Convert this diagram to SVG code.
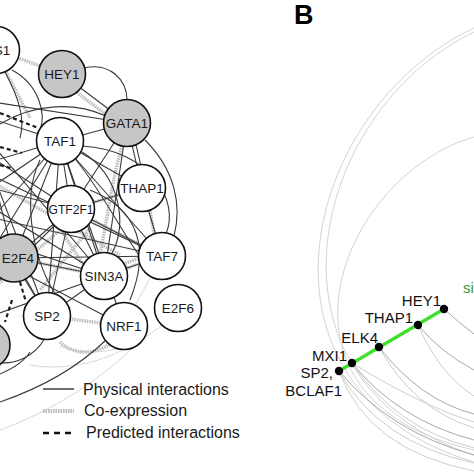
<svg xmlns="http://www.w3.org/2000/svg" width="474" height="474" viewBox="0 0 474 474">
<style>
.phys{stroke:#3a3a3a;stroke-width:1.1;fill:none}
.coex{stroke:#bdbdbd;stroke-width:3.4;fill:none;stroke-dasharray:1.6 0.9}
.pred{stroke:#1e1e1e;stroke-width:2.2;fill:none;stroke-dasharray:4 3}
.faint{stroke:#d8d8d8;stroke-width:1;fill:none}
.node circle{stroke:#111;stroke-width:1.6}
.w{fill:#fff}
.g{fill:#c6c6c6}
.lbl{font-family:"Liberation Sans",Arial,sans-serif;font-size:13.5px;fill:#1a1a1a;text-anchor:middle}
.leg{font-family:"Liberation Sans",Arial,sans-serif;font-size:16px;fill:#1a1a1a}
.blbl{font-family:"Liberation Sans",Arial,sans-serif;font-size:15px;fill:#111;text-anchor:end}
.arc{stroke:#d4d4d4;stroke-width:1;fill:none}
.fan{stroke:#a8a8a8;stroke-width:1;fill:none}
.fan2{stroke:#cdcdcd;stroke-width:1;fill:none}
</style>
<rect width="474" height="474" fill="#fff"/>

<g id="connectors-A">
  <path class="faint" d="M124,326 L162,256"/>
  <path class="faint" d="M-5,432 C50,412 105,380 150,330"/>
  <path class="faint" d="M60,346 C100,362 150,345 178,308"/>
  <path class="faint" d="M30,365 C70,372 110,360 140,340"/>
  <path class="coex" d="M-4,50 L62,74"/>
  <path class="coex" d="M59,79 L124,128"/>
  <path class="coex" d="M6,72 L30,118"/>
  <path class="coex" d="M122,146 C112,180 108,215 100,254"/>
  <path class="coex" d="M71,209 L142,188"/>
  <path class="coex" d="M71,209 L162,256"/>
  <path class="coex" d="M104,276 L162,256"/>
  <path class="coex" d="M104,271 L159,251"/>
  <path class="coex" d="M47,316 L124,326"/>
  <path class="coex" d="M14,258 L104,276"/>
  <path class="coex" d="M60,342 C72,354 92,356 110,344"/>
  <path class="coex" d="M146,188 L158,256"/>
  <path class="coex" d="M62,232 L100,290"/>
  <path class="coex" d="M90,228 L40,290"/>
  <path class="coex" d="M-20,175 L120,255"/>
  <path class="coex" d="M-20,300 L60,230"/>
  <path class="phys" d="M62,74 L127,123"/>
  <path class="phys" d="M60,141 L127,123"/>
  <path class="phys" d="M127,123 L142,188"/>
  <path class="phys" d="M131,123 L146,188"/>
  <path class="phys" d="M127,123 L71,209"/>
  <path class="phys" d="M127,123 L104,276"/>
  <path class="phys" d="M60,141 L71,209"/>
  <path class="phys" d="M60,141 L104,276"/>
  <path class="phys" d="M60,141 L162,256"/>
  <path class="phys" d="M60,141 L14,258"/>
  <path class="phys" d="M60,141 L47,316"/>
  <path class="phys" d="M60,141 L124,326"/>
  <path class="phys" d="M60,141 L142,188"/>
  <path class="phys" d="M71,209 L104,276"/>
  <path class="phys" d="M71,209 L162,256"/>
  <path class="phys" d="M71,209 L14,258"/>
  <path class="phys" d="M71,209 L47,316"/>
  <path class="phys" d="M71,209 L142,188"/>
  <path class="phys" d="M104,276 L162,256"/>
  <path class="phys" d="M104,276 L14,258"/>
  <path class="phys" d="M104,276 L47,316"/>
  <path class="phys" d="M47,316 L14,258"/>
  <path class="phys" d="M142,188 L162,256"/>
  <path class="phys" d="M14,258 L162,256"/>
  <path class="phys" d="M-20,115 L60,141"/>
  <path class="phys" d="M-20,165 L60,141"/>
  <path class="phys" d="M-20,195 L60,141"/>
  <path class="phys" d="M-20,232 L60,141"/>
  <path class="phys" d="M-20,270 L60,141"/>
  <path class="phys" d="M-20,150 L71,209"/>
  <path class="phys" d="M-20,185 L71,209"/>
  <path class="phys" d="M-20,300 L71,209"/>
  <path class="phys" d="M-20,130 L104,276"/>
  <path class="phys" d="M-20,200 L104,276"/>
  <path class="phys" d="M-20,235 L104,276"/>
  <path class="phys" d="M-20,320 L104,276"/>
  <path class="phys" d="M-20,170 L162,256"/>
  <path class="phys" d="M-20,215 L162,256"/>
  <path class="phys" d="M-20,140 L47,316"/>
  <path class="phys" d="M-20,205 L47,316"/>
  <path class="phys" d="M-20,125 L14,258"/>
  <path class="phys" d="M-20,100 L127,123"/>
  <path class="phys" d="M-20,250 L124,326"/>
  <path class="phys" d="M84,68 C110,62 127,80 127,100"/>
  <path class="phys" d="M12,70 C40,85 46,115 40,130"/>
  <path class="phys" d="M5,72 C20,100 25,120 20,138"/>
  <path class="phys" d="M0,124 C35,103 75,102 106,116"/>
  <path class="phys" d="M82,146 C150,150 180,200 166,234"/>
  <path class="phys" d="M145,140 C175,170 182,205 174,236"/>
  <path class="phys" d="M82,152 C120,175 128,225 112,253"/>
  <path class="phys" d="M76,160 C105,195 125,240 150,270"/>
  <path class="phys" d="M0,402 C35,390 75,370 106,340"/>
  <path class="phys" d="M0,374 C14,368 24,362 30,352"/>
  <path class="phys" d="M-5,362 C15,366 35,356 45,338"/>
  <path class="phys" d="M40,160 C20,200 35,270 60,300"/>
  <path class="phys" d="M90,190 C140,210 150,250 130,300"/>
  <path class="pred" d="M0,113 L38,128"/>
  <path class="pred" d="M0,147 L22,153"/>
  <path class="pred" d="M0,165 L14,169"/>
  <path class="pred" d="M20,282 L26,302"/>
  <path class="pred" d="M12,300 L5,322"/>
</g>

<g id="node-S1" class="node"><circle class="w" cx="-4" cy="50" r="23.5"/><text class="lbl" x="2" y="55">S1</text></g>
<g id="node-HEY1" class="node"><circle class="g" cx="62" cy="74" r="23.5"/><text class="lbl" x="62" y="79">HEY1</text></g>
<g id="node-GATA1" class="node"><circle class="g" cx="127" cy="123" r="23.5"/><text class="lbl" x="127" y="128">GATA1</text></g>
<g id="node-TAF1" class="node"><circle class="w" cx="60" cy="141" r="23.5"/><text class="lbl" x="60" y="146">TAF1</text></g>
<g id="node-THAP1" class="node"><circle class="w" cx="142" cy="188" r="23.5"/><text class="lbl" x="142" y="193">THAP1</text></g>
<g id="node-GTF2F1" class="node"><circle class="w" cx="71" cy="209" r="23.5"/><text class="lbl" x="71" y="214" textLength="45" lengthAdjust="spacingAndGlyphs">GTF2F1</text></g>
<g id="node-TAF7" class="node"><circle class="w" cx="162" cy="256" r="23.5"/><text class="lbl" x="162" y="261">TAF7</text></g>
<g id="node-E2F4" class="node"><circle class="g" cx="14" cy="258" r="24"/><text class="lbl" x="18" y="263">E2F4</text></g>
<g id="node-SIN3A" class="node"><circle class="w" cx="104" cy="276" r="23.5"/><text class="lbl" x="104" y="281">SIN3A</text></g>
<g id="node-SP2" class="node"><circle class="w" cx="47" cy="316" r="23.5"/><text class="lbl" x="47" y="321">SP2</text></g>
<g id="node-NRF1" class="node"><circle class="w" cx="124" cy="326" r="23.5"/><text class="lbl" x="124" y="331">NRF1</text></g>
<g id="node-E2F6" class="node"><circle class="w" cx="178" cy="308" r="23.5"/><text class="lbl" x="178" y="313">E2F6</text></g>
<g id="node-G2" class="node"><circle class="g" cx="-14" cy="345" r="24"/></g>

<g id="legend">
  <line x1="43" y1="389" x2="74" y2="389" stroke="#222" stroke-width="1.3"/>
  <text class="leg" x="83" y="395">Physical interactions</text>
  <line x1="43" y1="411" x2="74" y2="411" stroke="#bdbdbd" stroke-width="4" stroke-dasharray="1.6 0.9"/>
  <text class="leg" x="84" y="416">Co-expression</text>
  <line x1="43" y1="433" x2="74" y2="433" stroke="#111" stroke-width="2.5" stroke-dasharray="6 5"/>
  <text class="leg" x="86" y="438">Predicted interactions</text>
</g>

<text x="294" y="24" font-family="Liberation Sans, Arial, sans-serif" font-size="27" font-weight="bold" fill="#000">B</text>

<g id="connectors-B">
  <path class="arc" d="M474,28 C300,110 235,390 474,462"/>
  <path class="arc" d="M474,32 C308,112 248,382 474,455"/>
  <path class="arc" d="M474,137 C340,175 250,400 474,450"/>
  <path class="fan" d="M444,309 Q458,322 474,334"/>
  <path class="fan" d="M418,325 Q440,352 474,370"/>
  <path class="fan2" d="M418,325 Q440,375 474,396"/>
  <path class="fan" d="M379,347 Q420,400 474,414"/>
  <path class="fan2" d="M379,347 Q412,408 474,428"/>
  <path class="fan" d="M352,363 Q398,420 474,440"/>
  <path class="fan2" d="M352,363 Q395,428 474,448"/>
  <path class="fan" d="M339,371 Q390,432 474,455"/>
  <path class="fan2" d="M339,371 Q378,442 474,463"/>
  <path class="fan2" d="M339,371 Q368,450 474,471"/>
  <path class="fan2" d="M352,363 Q420,405 474,422"/>
</g>
<line id="green-link" x1="339" y1="371" x2="444" y2="309" stroke="#3ee02a" stroke-width="3.2"/>
<g id="node-B-SP2"><circle cx="339" cy="371" r="4.2" fill="#000"/><text class="blbl" x="333" y="378">SP2,</text><text class="blbl" x="342" y="396">BCLAF1</text></g>
<g id="node-B-MXI1"><circle cx="352" cy="363" r="4.2" fill="#000"/><text class="blbl" x="347" y="361">MXI1</text></g>
<g id="node-B-ELK4"><circle cx="379" cy="347" r="4.2" fill="#000"/><text class="blbl" x="378" y="343">ELK4</text></g>
<g id="node-B-THAP1"><circle cx="418" cy="325" r="4.2" fill="#000"/><text class="blbl" x="413" y="323">THAP1</text></g>
<g id="node-B-HEY1"><circle cx="444" cy="309" r="4.2" fill="#000"/><text class="blbl" x="441" y="306">HEY1</text></g>
<text x="463" y="293" font-family="Liberation Sans, Arial, sans-serif" font-size="15" fill="#3a9a3a">si</text>
</svg>
